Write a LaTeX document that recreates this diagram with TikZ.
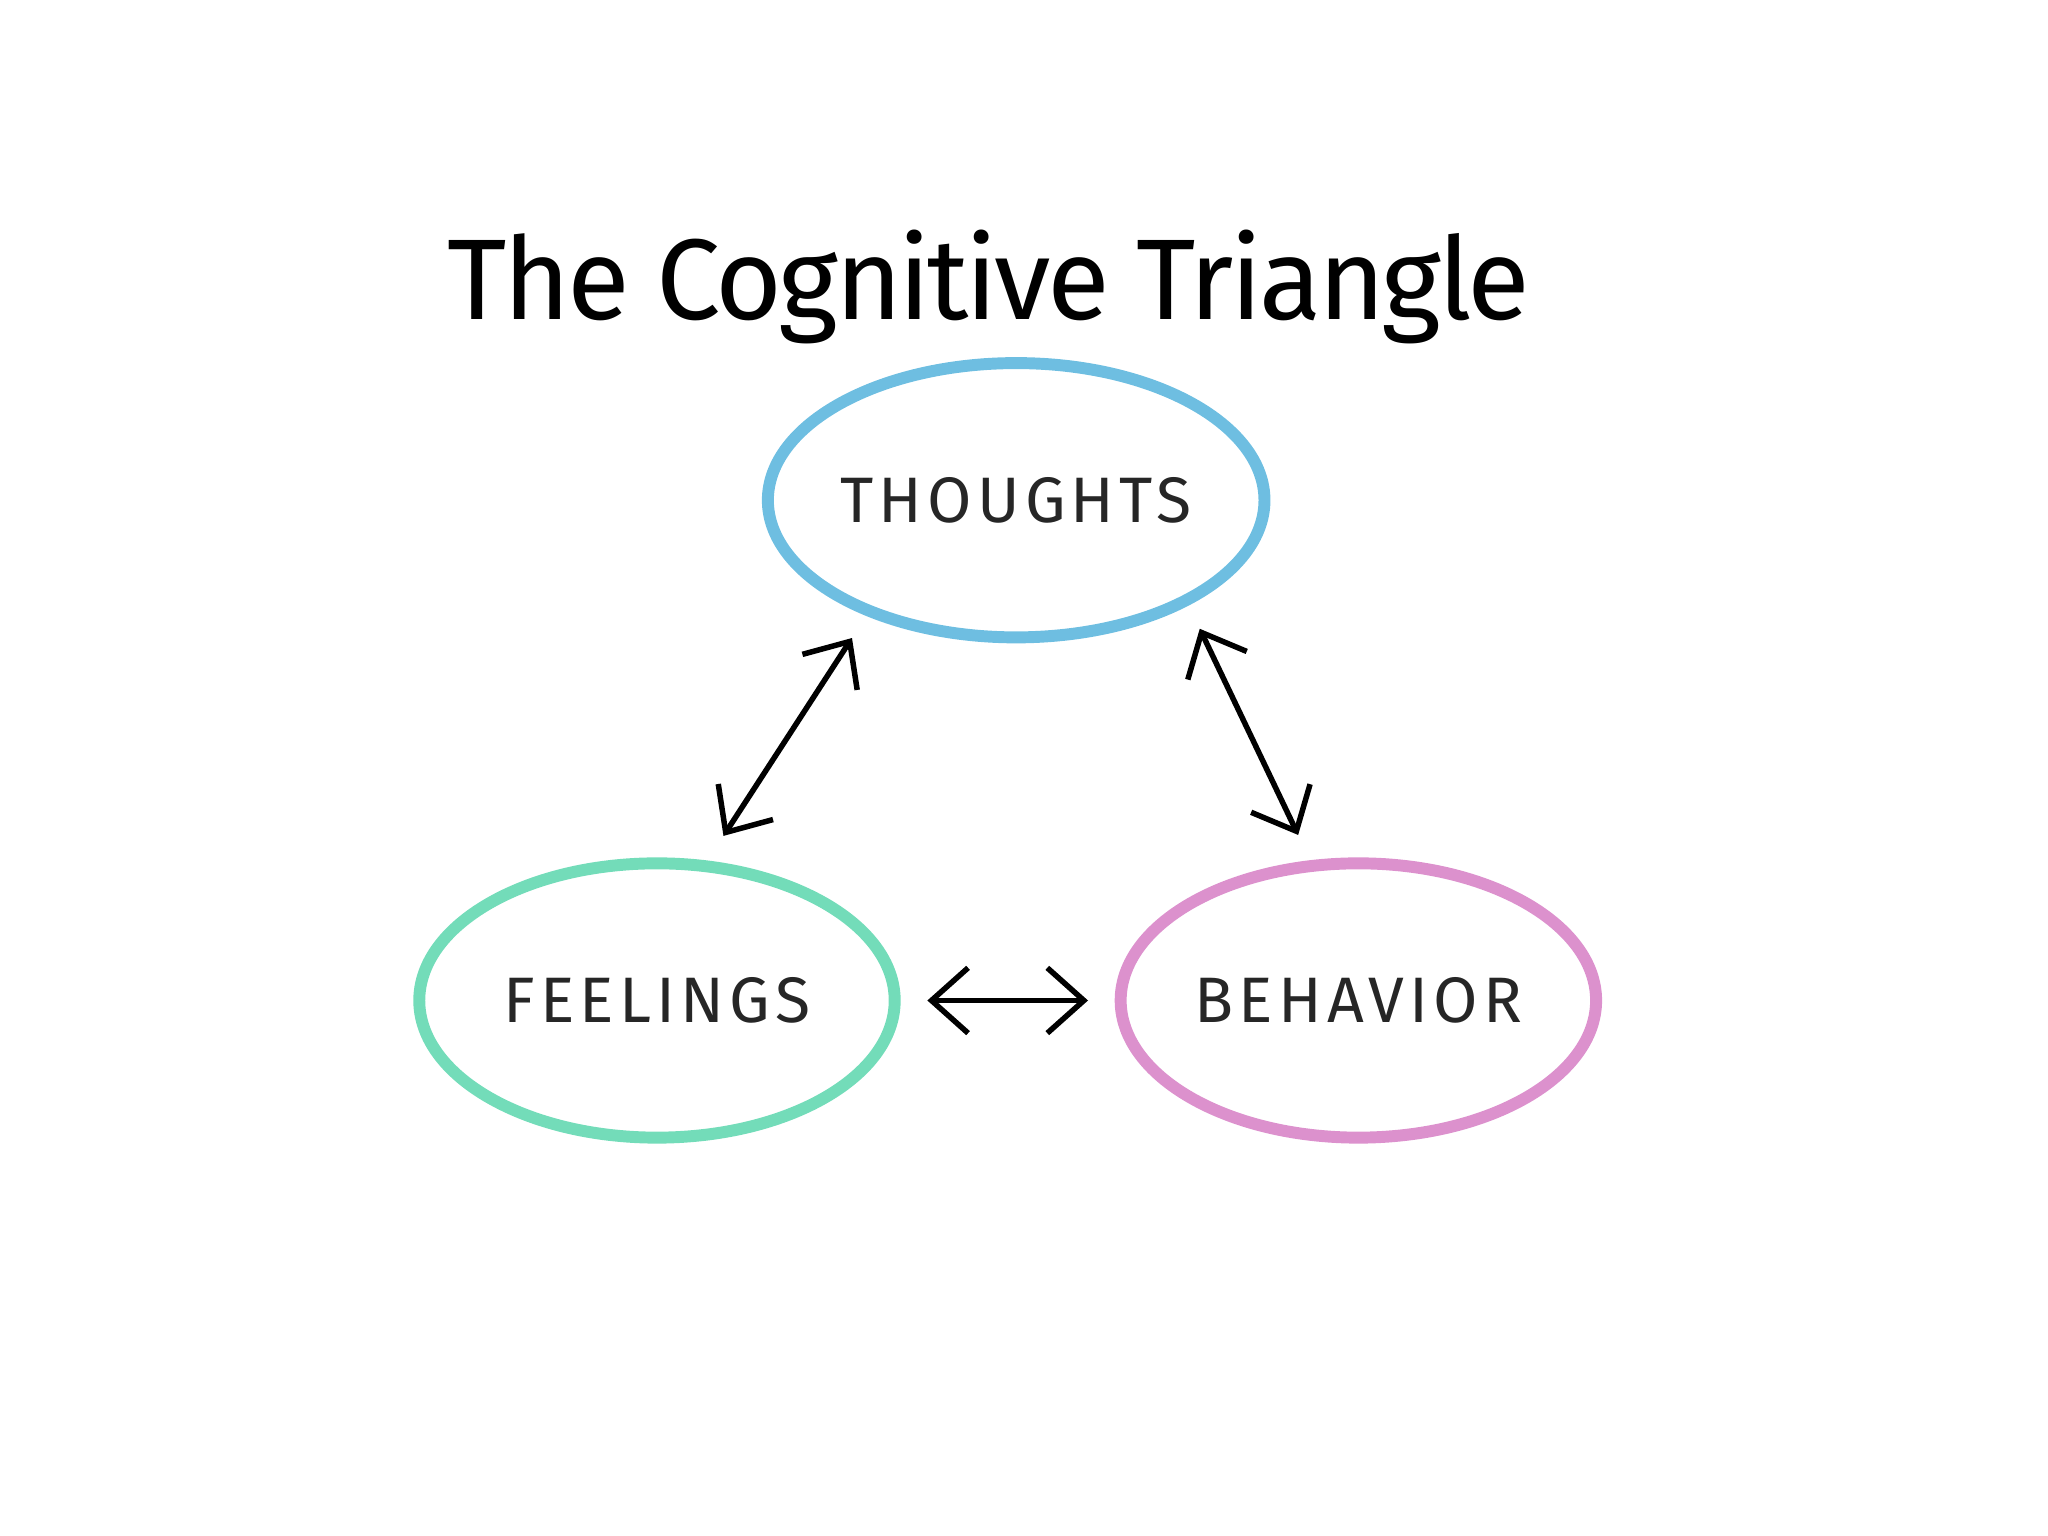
\documentclass[tikz,border=0pt]{standalone}
\usepackage{fontspec}
\setmainfont{Fira Sans}
\usetikzlibrary{shapes.geometric,arrows.meta}
\definecolor{cblue}{RGB}{110,190,225}
\definecolor{cgreen}{RGB}{115,220,185}
\definecolor{cpink}{RGB}{220,145,205}
\tikzset{
 ov/.style={ellipse,line width=2.6pt,inner sep=0pt,minimum width=3.64cm,minimum height=2.1cm,outer sep=0.25cm,font=\fontsize{14}{14}\selectfont\addfontfeature{LetterSpace=8},text=black!85},
 ar/.style={line width=1.2pt,{Straight Barb[length=2.8mm,width=5mm]}-{Straight Barb[length=2.8mm,width=5mm]}}
}
\begin{document}
\begin{tikzpicture}
\useasboundingbox (0,0) rectangle (15.68,-11.76);
\node[font=\fontsize{25}{25}\selectfont\addfontfeature{LetterSpace=-3}] (title) at (7.57,-2.2) {The Cognitive Triangle};
\node[ov,draw=cblue] (t) at (7.78,-3.83) {THOUGHTS};
\node[ov,draw=cgreen] (f) at (5.03,-7.66) {FEELINGS};
\node[ov,draw=cpink] (b) at (10.40,-7.66) {BEHAVIOR};
\draw[ar] (t.220) -- (f.68);
\draw[ar] (t.-35) -- (b.110);
\draw[ar] (f.east) -- (b.west);
\end{tikzpicture}
\end{document}
